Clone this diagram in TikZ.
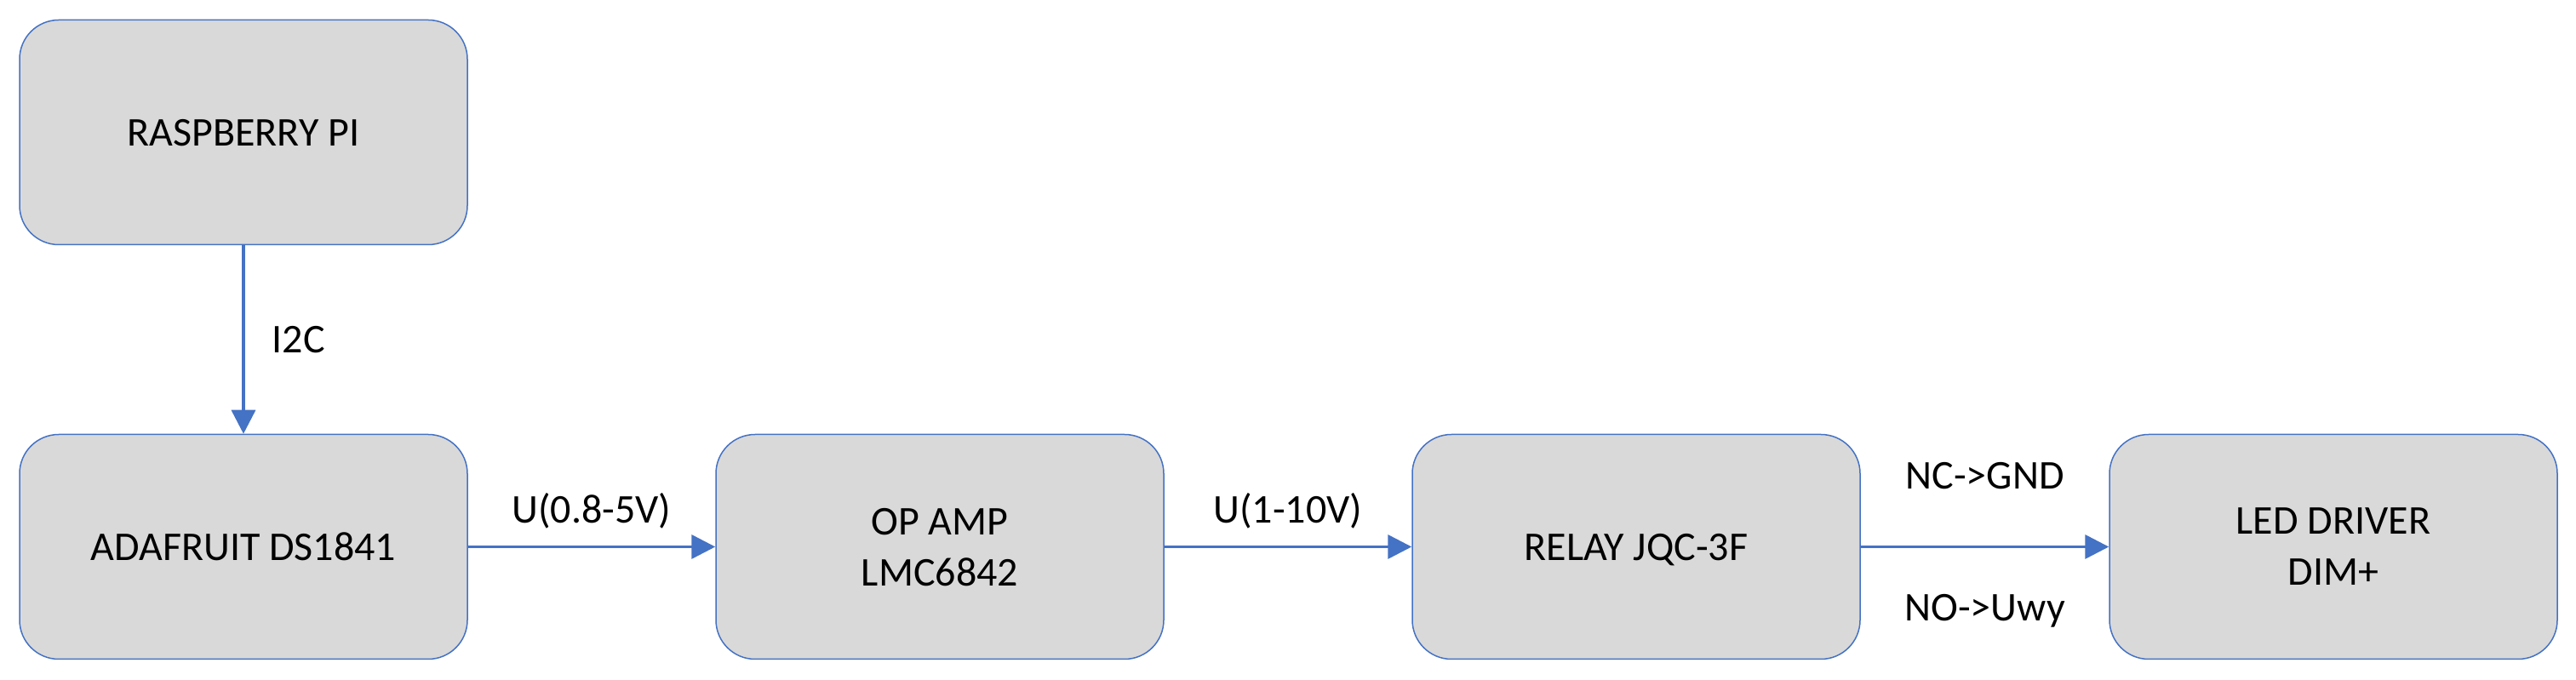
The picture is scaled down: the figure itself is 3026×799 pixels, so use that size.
\documentclass[tikz,border=0pt]{standalone}
\usepackage{fontspec}
\setmainfont{Carlito}
\usetikzlibrary{arrows.meta}
\definecolor{boxfill}{HTML}{D9D9D9}
\definecolor{accent}{HTML}{4472C4}
\begin{document}
\begin{tikzpicture}[x=1pt,y=1pt,
  block/.style={draw=accent, line width=1.5pt, fill=boxfill, rounded corners=46pt,
    minimum width=526pt, minimum height=264pt, inner sep=0pt, align=center,
    font=\fontsize{48}{60}\selectfont, text depth=0pt},
  flow/.style={draw=accent, line width=3.5pt, -{Triangle[length=28pt,width=28pt]}},
  lbl/.style={font=\fontsize{48}{60}\selectfont, inner sep=0pt, text=black}]
\useasboundingbox (0,0) rectangle (3026,799);
\node[block] (rpi) at (286,643.5) {RASPBERRY PI};
\node[block] (ada) at (286,156.5) {ADAFRUIT DS1841};
\node[block] (opamp) at (1104,156.5) {OP AMP\\LMC6842};
\node[block] (relay) at (1922,156.5) {RELAY JQC-3F};
\node[block] (led) at (2741,156.5) {LED DRIVER\\DIM+};
\draw[flow] (rpi) -- node[lbl, anchor=west, xshift=32pt, text depth=0pt] {I2C} (ada);
\draw[flow] (ada) -- node[lbl, anchor=base, yshift=28pt] {U(0.8-5V)} (opamp);
\draw[flow] (opamp) -- node[lbl, anchor=base, yshift=28pt] {U(1-10V)} (relay);
\draw[flow] (relay) -- node[lbl, anchor=base, yshift=68pt] {NC->GND}
  node[lbl, anchor=base, yshift=-87pt] {NO->Uwy} (led);
\end{tikzpicture}
\end{document}
